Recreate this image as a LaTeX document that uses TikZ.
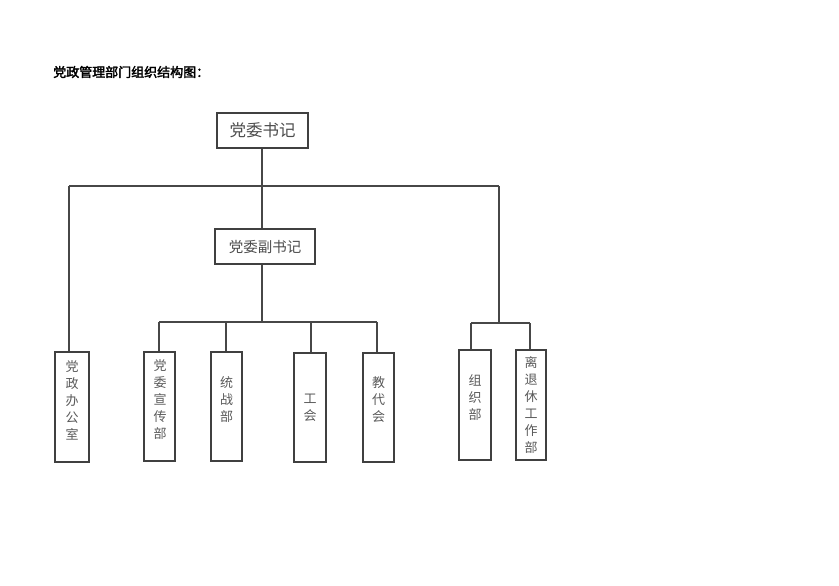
\documentclass[tikz,border=0pt]{standalone}
\usepackage{fontspec}
\newfontfamily\cjk{Noto Sans CJK SC}
\newfontfamily\cjkb[FakeBold=2.5]{Noto Sans CJK SC}
\begin{document}
\begin{tikzpicture}[x=1pt,y=-1pt,
  box/.style={draw=black!75,line width=1.1pt,inner sep=0pt},
  conn/.style={draw=black!72,line width=1.1pt},
  vtext/.style={text=black!65,align=center,inner sep=0pt,font=\cjk\fontsize{13}{17}\selectfont},
  htext/.style={text=black!70,inner sep=0pt}]
\useasboundingbox (0,0) rectangle (839,586);
\node[anchor=west,inner sep=0pt,font=\cjkb\fontsize{13}{15}\selectfont] (title) at (53,72) {党政管理部门组织结构图：};
\node[box,minimum width=91,minimum height=35,htext,font=\cjk\fontsize{16.5}{18}\selectfont] (top) at (262.5,130.5) {党委书记};
\node[box,minimum width=100,minimum height=35,htext,font=\cjk\fontsize{14.5}{17}\selectfont] (sub) at (265,246.5) {党委副书记};
% bottom boxes
\node[box,minimum width=34,minimum height=110] (b1) at (72,407) {};
\node[box,minimum width=31,minimum height=109] (b2) at (159.5,406.5) {};
\node[box,minimum width=31,minimum height=109] (b3) at (226.5,406.5) {};
\node[box,minimum width=32,minimum height=109] (b4) at (310,407.5) {};
\node[box,minimum width=31,minimum height=109] (b5) at (378.5,407.5) {};
\node[box,minimum width=32,minimum height=110] (b6) at (475,405) {};
\node[box,minimum width=30,minimum height=110] (b7) at (531,405) {};
\node[vtext] (t1) at (72,400) {党\\政\\办\\公\\室};
\node[vtext] (t2) at (160,400) {党\\委\\宣\\传\\部};
\node[vtext] (t3) at (226.5,400) {统\\战\\部};
\node[vtext] (t4) at (310,408) {工\\会};
\node[vtext] (t5) at (378.5,400) {教\\代\\会};
\node[vtext] (t6) at (475,398) {组\\织\\部};
\node[vtext] (t7) at (531,405) {离\\退\\休\\工\\作\\部};
% junction coordinates
\coordinate (jl) at (69,186);
\coordinate (jc) at (262,186);
\coordinate (jr) at (499,186);
\coordinate (m1) at (159,322);
\coordinate (m2) at (226,322);
\coordinate (m3) at (311,322);
\coordinate (m4) at (377,322);
\coordinate (r0) at (499,323);
\coordinate (r1) at (471,323);
\coordinate (r2) at (530,323);
% connectors
\draw[conn] (jc |- top.south) -- (jc |- sub.north);
\draw[conn] (jl) -- (jr);
\draw[conn] (jl) -- (jl |- b1.north);
\draw[conn] (jr) -- (r0);
\draw[conn] (jc |- sub.south) -- (jc |- m1);
\draw[conn] (m1) -- (m4);
\draw[conn] (m1) -- (m1 |- b2.north);
\draw[conn] (m2) -- (m2 |- b3.north);
\draw[conn] (m3) -- (m3 |- b4.north);
\draw[conn] (m4) -- (m4 |- b5.north);
\draw[conn] (r1) -- (r2);
\draw[conn] (r1) -- (r1 |- b6.north);
\draw[conn] (r2) -- (r2 |- b7.north);
\end{tikzpicture}
\end{document}
